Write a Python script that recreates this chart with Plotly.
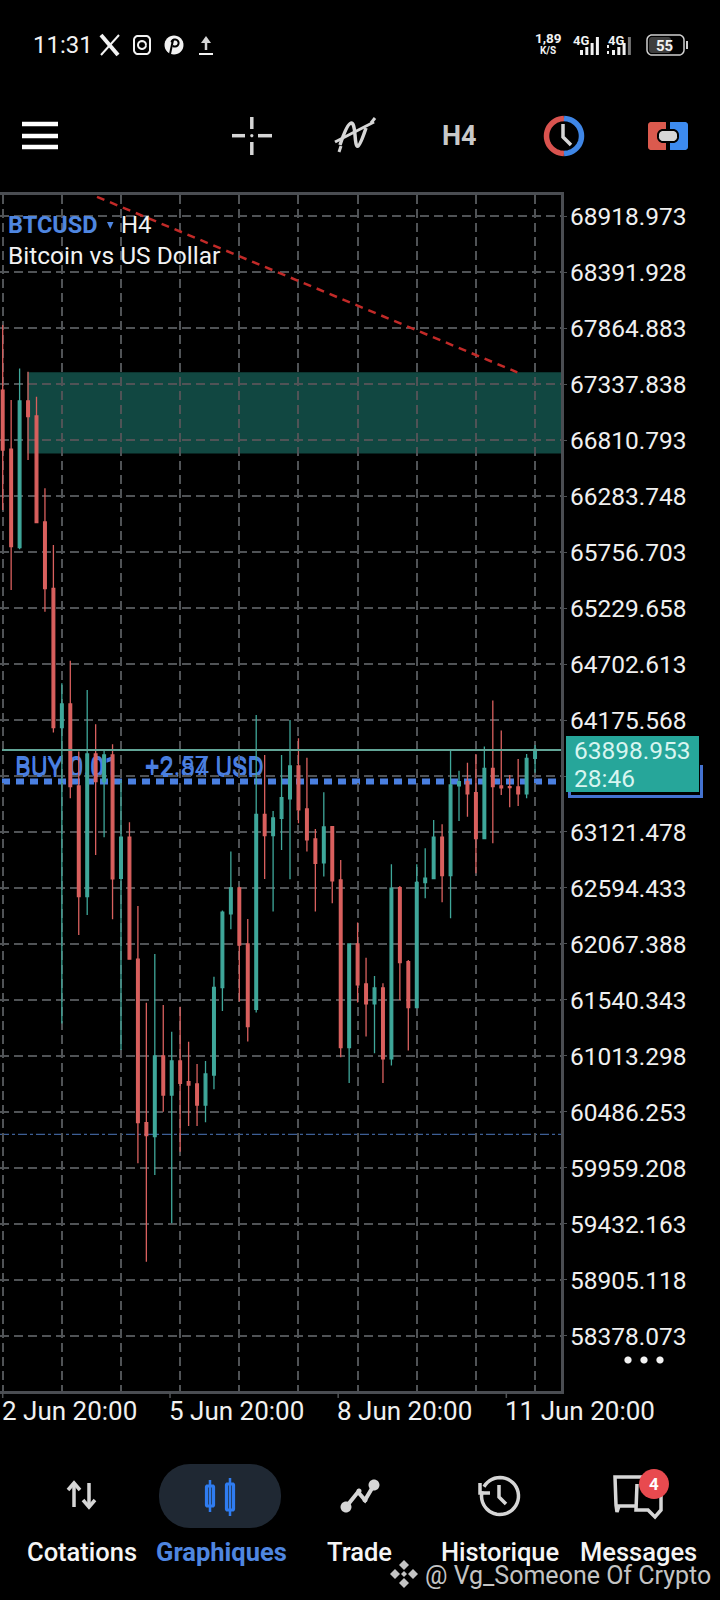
import math
import plotly.graph_objects as go

# candles, oldest first
opens = [67281, 66726, 65798, 67178, 67037, 66039, 65415, 64104, 64327, 63555,
         62513, 63856, 63596, 63847, 62686, 63072, 61924, 60386, 60254, 61013,
         60646, 60966, 60771, 60750, 60552, 60834, 61657, 62350, 62595, 62068,
         61453, 63288, 63087, 63251, 63433, 63743, 63338, 63056, 62830, 63172,
         62670, 61092, 62068, 61691, 61503, 61654, 60986, 62598, 61902, 61469,
         62645, 62683, 63072, 62711, 63555, 63596, 63492, 63059, 63721, 63555,
         63549, 63545, 63480, 63815]
highs = [67893, 67187, 67485, 67454, 67219, 66356, 65823, 64521, 64734, 63878,
         64458, 64135, 63887, 63947, 63611, 63213, 62425, 61515, 61974, 61493,
         61242, 61477, 61148, 60938, 60966, 61760, 62382, 62937, 62607, 62302,
         64223, 63847, 63320, 63847, 64176, 64003, 63821, 63150, 63495, 63172,
         62858, 62068, 62269, 61939, 61767, 61698, 62818, 62614, 61917, 62818,
         62968, 63235, 63194, 63887, 63699, 63774, 63856, 63925, 64358, 64076,
         63658, 63809, 63856, 63941]
lows = [66152, 65399, 65782, 66623, 66033, 65195, 64057, 61320, 63439, 62153,
        62341, 62906, 63072, 62300, 61069, 61924, 60003, 59077, 59893, 60489,
        59438, 60113, 60354, 60354, 60389, 60699, 61437, 62206, 61525, 61149,
        61422, 62680, 62372, 62953, 62676, 63203, 62937, 62372, 62702, 62451,
        61001, 60759, 61516, 61196, 61039, 60759, 60923, 61541, 61064, 61469,
        62498, 62683, 62460, 62309, 63226, 63266, 62733, 63059, 63015, 63470,
        63354, 63367, 63439, 63680]
closes = [66717, 65807, 67178, 67031, 66033, 65412, 64104, 64327, 63549, 62513,
          63856, 63596, 63847, 62680, 63072, 61924, 60386, 60263, 61013, 60646,
          60966, 60756, 60740, 60552, 60844, 61659, 62366, 62595, 62058, 61290,
          63288, 63087, 63254, 63445, 63743, 63329, 63047, 62827, 63169, 62661,
          61092, 62068, 61682, 61503, 61654, 60986, 62592, 61892, 61469, 62648,
          62686, 63072, 62711, 63564, 63596, 63480, 63059, 63721, 63549, 63536,
          63539, 63480, 63815, 63899]

y_ticks = [68918.973, 68391.928, 67864.883, 67337.838, 66810.793, 66283.748, 65756.703,
           65229.658, 64702.613, 64175.568, 63648.523, 63121.478, 62594.433, 62067.388,
           61540.343, 61013.298, 60486.253, 59959.208, 59432.163, 58905.118, 58378.073]
y_tick_text = ["68918.973", "68391.928", "67864.883", "67337.838", "66810.793", "66283.748", "65756.703",
               "65229.658", "64702.613", "64175.568", "", "63121.478", "62594.433", "62067.388",
               "61540.343", "61013.298", "60486.253", "59959.208", "59432.163", "58905.118", "58378.073"]
grid_x = [0, 7, 14, 21, 28, 35, 42, 49, 56, 63]
date_labels = ["2 Jun 20:00", "5 Jun 20:00", "8 Jun 20:00", "11 Jun 20:00"]
date_pos = [0, 19.8, 39.7, 59.6]

last_price = 63894
buy_price = 63596
alert_price = 60276
zone_top, zone_bottom, zone_start = 67448, 66685, 2.9
trend_x = [11.16, 60.9]
trend_y = [69100, 67448]

RED = "#d9605e"
TEAL = "#3fa79a"
BLUE = "#4a7fe0"
GREY = "#d6d6d6"
FONT = "Roboto"

W, H = 720, 1600
PLOT_L, PLOT_R, PLOT_T, PLOT_B = 0, 561, 195, 1391


def px(x):
    return x / W


def py(y):
    return 1 - y / H


def path(points, close=False):
    s = "M " + " L ".join(f"{px(x):.5f},{py(y):.5f}" for x, y in points)
    return s + (" Z" if close else "")


def arc(cx, cy, r, a0, a1, n=30):
    # angles in degrees, 0 = right, going clockwise on screen
    out = []
    for k in range(n + 1):
        a = math.radians(a0 + (a1 - a0) * k / n)
        out.append((cx + r * math.cos(a), cy + r * math.sin(a)))
    return out


def rounded(x0, y0, x1, y1, r):
    pts = arc(x1 - r, y0 + r, r, -90, 0, 8) + arc(x1 - r, y1 - r, r, 0, 90, 8)
    pts += arc(x0 + r, y1 - r, r, 90, 180, 8) + arc(x0 + r, y0 + r, r, 180, 270, 8)
    return pts


shapes = []


def fill_shape(points, color):
    shapes.append(dict(type="path", xref="paper", yref="paper", path=path(points, True),
                       fillcolor=color, line=dict(width=0), layer="above"))


def stroke(points, color, width=3, close=False):
    shapes.append(dict(type="path", xref="paper", yref="paper", path=path(points, close),
                       line=dict(color=color, width=width), layer="above"))


def disc(cx, cy, r, color):
    fill_shape(arc(cx, cy, r, 0, 360, 32), color)


def rect(x0, y0, x1, y1, color):
    fill_shape([(x0, y0), (x1, y0), (x1, y1), (x0, y1)], color)


def diamond(cx, cy, r, color):
    fill_shape([(cx, cy - r), (cx + r, cy), (cx, cy + r), (cx - r, cy)], color)


notes = []


def text(x, y, s, size=24, color="#f2f2f2", anchor="left", weight=400):
    # annotations carry a little padding on their left side
    xs = -2.5 if anchor == "left" else 0
    notes.append(dict(xref="paper", yref="paper", x=px(x), xshift=xs, y=py(y), text=s,
                      showarrow=False, xanchor=anchor, yanchor="middle",
                      font=dict(family=FONT, size=size, color=color, weight=weight)))


def order_label(x0, x1, y, s):
    # sits under the candles, so it goes on a below-layer shape and not in an annotation
    shapes.append(dict(type="rect", xref="paper", yref="paper", x0=px(x0), x1=px(x1), y0=py(y), y1=py(y),
                       line=dict(width=0), layer="below",
                       label=dict(text=s, textposition="middle left", padding=0,
                                  font=dict(family=FONT, size=25.5, color=BLUE))))


# chart overlays, all in data units
shapes.append(dict(type="rect", xref="x", yref="y", x0=zone_start, x1=66.3, y0=zone_bottom, y1=zone_top,
                   fillcolor="#124a44", opacity=0.96, line=dict(width=0), layer="below"))
shapes.append(dict(type="line", xref="paper", x0=0, x1=PLOT_R / W, yref="y", y0=alert_price, y1=alert_price,
                   line=dict(color="#3d5f96", width=1.2, dash="dashdot"), layer="below"))
shapes.append(dict(type="line", xref="paper", x0=2 / W, x1=PLOT_R / W, yref="y", y0=buy_price, y1=buy_price,
                   line=dict(color=BLUE, width=6, dash="8px,6px"), layer="below"))
order_label(12, 120, 764, "BUY 0.01")
order_label(12, 120, 766, "BUY 0.01")
order_label(142, 265, 764, "+2.57 USD")
order_label(142, 265, 766, "+2.84 USD")
shapes.append(dict(type="line", xref="paper", x0=2 / W, x1=PLOT_R / W, yref="y", y0=last_price, y1=last_price,
                   line=dict(color="#62a597", width=2), layer="above"))
for p in date_pos:
    shapes.append(dict(type="line", xref="x", yref="paper", x0=p, x1=p, y0=py(1392), y1=py(1398),
                       line=dict(color="#505356", width=1.5), layer="above"))

# price tag on the right
rect(568, 765, 703, 798, "#4472d0")
rect(571, 765, 700, 795, "#000000")
rect(566, 736, 699, 792, "#26a69a")
text(574, 750, "63898.953", 24.5, "#d8f5f0")
text(574, 778, "28:46", 24.5, "#d8f5f0")
for x in [628, 644, 660]:
    disc(x, 1360, 3.6, "#f2f2f2")

# status bar
text(33, 45, "11:31", 24)
stroke([(101, 35), (118, 55)], "#f2f2f2", 4)
stroke([(119, 35), (101, 55)], "#f2f2f2", 2)
stroke(rounded(134, 36, 150, 54, 4), "#f2f2f2", 2, True)
stroke(arc(142, 45, 4, 0, 360, 20), "#f2f2f2", 2)
disc(174, 45, 9.5, "#f2f2f2")
stroke([(173, 40), (170, 54)], "#000000", 2)
stroke(arc(175, 43, 3.6, -170, 130, 14), "#000000", 2)
stroke([(206, 50), (206, 39)], GREY, 2.5)
fill_shape([(201, 43), (206, 36), (211, 43)], GREY)
rect(199, 53, 213, 55, "#f2f2f2")
text(548.5, 38, "1,89", 13.5, "#f2f2f2", "center", 700)
text(548, 50, "K/S", 10, "#f2f2f2", "center", 700)
text(581, 40, "4G", 13, "#f2f2f2", "center", 700)
text(616, 40, "4G", 13, "#f2f2f2", "center", 700)
for x0, hts in [(580, [5, 8, 12, 18]), (612, [5, 8, 12, 18])]:
    for k, ht in enumerate(hts):
        rect(x0 + k * 5.3, 55 - ht, x0 + k * 5.3 + 3, 55, "#f2f2f2" if not (x0 == 612 and k == 3) else "#777777")
rect(607, 45, 609, 48, "#f2f2f2")
rect(607, 51, 609, 54, "#f2f2f2")
stroke(rounded(647, 35, 684, 55, 5), "#d0d0d0", 1.5, True)
fill_shape(rounded(649, 37, 671, 53, 3), "#3e3e3e")
rect(686, 41, 688, 49, "#d0d0d0")
text(664.5, 45.5, "55", 15, "#f2f2f2", "center", 700)

# toolbar
for y in [124, 136, 147]:
    rect(22, y - 2.2, 58, y + 2.2, "#ffffff")
for a, b in [((232, 135.7), (245, 135.7)), ((258, 135.7), (272, 135.7)),
             ((251.8, 117), (251.8, 129)), ((251.8, 142), (251.8, 155))]:
    stroke([a, b], GREY, 3.5)
disc(251.8, 135.7, 1.6, GREY)
shapes.append(dict(type="path", xref="paper", yref="paper", line=dict(color=GREY, width=3.5), layer="above",
                   path=f"M {px(340):.5f},{py(145):.5f} C {px(350):.5f},{py(115):.5f} {px(354):.5f},{py(120):.5f} "
                        f"{px(355):.5f},{py(135):.5f} S {px(358):.5f},{py(152):.5f} {px(366):.5f},{py(128):.5f}"))
stroke([(335, 142), (374, 122)], GREY, 3)
stroke([(339, 152), (341, 146)], GREY, 3)
stroke([(371, 123), (375, 118)], GREY, 3)
text(460, 136, "H4", 27, "#c9c9c9", "center", 700)
stroke(arc(564, 136, 17.5, 90, 270, 24), "#d9534f", 5.5)
stroke(arc(564, 136, 17.5, -90, 90, 24), "#3f86e6", 5.5)
stroke([(563, 124), (563, 137), (571, 145)], GREY, 3.5)
fill_shape(rounded(648, 122, 668, 150, 3), "#db5a4e")
fill_shape(rounded(668, 122, 688, 150, 3), "#3d8bf0")
rect(666, 122, 670, 150, "#000000")
fill_shape(rounded(658, 130, 678, 142, 5), GREY)
stroke(rounded(658, 130, 678, 142, 5), "#000000", 2, True)

# symbol header
text(8, 225, "BTCUSD", 23.5, "#4f86e0", weight=700)
fill_shape([(107, 222), (113.5, 222), (110.2, 229)], "#4f86e0")
text(121, 225, "H4", 24)
text(8, 255, "Bitcoin vs US Dollar", 24.5)

# bottom nav
stroke([(74, 1507), (74, 1483)], GREY, 3.5)
stroke([(68, 1490), (74, 1483), (80, 1490)], GREY, 3.5)
stroke([(89, 1483), (89, 1507)], GREY, 3.5)
stroke([(83, 1500), (89, 1507), (95, 1500)], GREY, 3.5)
fill_shape(rounded(159, 1464, 281, 1528, 31), "#1f2833")
for cx, top, bot in [(210, 1480, 1512), (230, 1478, 1516)]:
    stroke([(cx, top), (cx, bot)], "#2f7cf0", 2.5)
    stroke(rounded(cx - 3.5, top + 6, cx + 3.5, bot - 6, 1), "#2f7cf0", 3.2, True)
stroke([(346, 1507), (358, 1492), (365, 1500), (374, 1485)], GREY, 4)
disc(346, 1507, 5.5, GREY)
disc(374, 1485, 5.5, GREY)
disc(359, 1491, 2.5, GREY)
disc(365, 1500, 2.5, GREY)
stroke(arc(500, 1496, 18.5, -150, 195, 40), GREY, 3.5)
stroke([(480, 1483), (480, 1493), (490, 1493)], GREY, 3.5)
stroke([(499, 1485), (499, 1497), (506, 1504)], GREY, 3.5)
stroke([(637, 1506), (619, 1506), (617, 1512), (616, 1505), (615, 1477), (645, 1477)], GREY, 3.5)
stroke([(637, 1484), (636, 1510), (648, 1510), (655, 1517), (661, 1510), (661, 1490)], GREY, 3.5)
disc(654, 1484, 15, "#e84a4f")
text(654, 1484, "4", 17, "#ffffff", "center", 700)
text(82, 1552, "Cotations", 25.5, "#f5f5f5", "center", 500)
text(221, 1552, "Graphiques", 25.5, "#4f86e0", "center", 700)
text(359.5, 1552, "Trade", 25.5, "#f5f5f5", "center", 500)
text(499.5, 1552, "Historique", 25.5, "#f5f5f5", "center", 500)
text(638, 1552, "Messages", 25.5, "#f5f5f5", "center", 500)
text(425, 1575, "@ Vg_Someone Of Crypto", 25, "#c4c4c4")
for dx, dy in [(0, -9), (-9, 0), (9, 0), (0, 9)]:
    diamond(404 + dx, 1574 + dy, 5, "#c4c4c4")
diamond(404, 1574, 3, "#c4c4c4")

# date labels sit to the right of their tick, so they go in as annotations
for lab, p in zip(date_labels, date_pos):
    notes.append(dict(xref="x", yref="paper", x=p, y=py(1411), text=lab, showarrow=False, xanchor="left",
                      xshift=-3, yanchor="middle", font=dict(family=FONT, size=26, color="#f0f0f0")))

fig = go.Figure()
fig.add_trace(go.Candlestick(x=list(range(len(opens))), open=opens, high=highs, low=lows, close=closes,
                             increasing=dict(line=dict(color=TEAL, width=1.3), fillcolor=TEAL),
                             decreasing=dict(line=dict(color=RED, width=1.3), fillcolor=RED),
                             hoverinfo="skip", showlegend=False))
fig.add_trace(go.Scatter(x=trend_x, y=trend_y, mode="lines", hoverinfo="skip", showlegend=False,
                         line=dict(color="#c22a28", width=2.5, dash="8px,6px")))

axis_line = dict(showline=True, linecolor="#4a4d52", linewidth=3, mirror=True, zeroline=False)
grid = dict(showgrid=True, gridcolor="#505356", gridwidth=1.5, griddash="9px,5px")
fig.update_layout(
    width=W, height=H, autosize=False, margin=dict(l=0, r=0, t=0, b=0, autoexpand=False),
    paper_bgcolor="#000000", plot_bgcolor="#000000", showlegend=False, boxgap=0.55,
    xaxis=dict(domain=[PLOT_L / W, PLOT_R / W], range=[-0.32, 66.07], rangeslider=dict(visible=False),
               tickmode="array", tickvals=grid_x, ticktext=[""] * len(grid_x), ticks="", **axis_line, **grid),
    yaxis=dict(domain=[1 - PLOT_B / H, 1 - PLOT_T / H], range=[57860, 69117], side="right", tickmode="array",
               tickvals=y_ticks, ticktext=y_tick_text, ticks="outside", ticklen=3, ticklabelstandoff=-2,
               tickcolor="#505356", tickfont=dict(family=FONT, size=24.5, color="#f0f0f0"), **axis_line, **grid),
    shapes=shapes, annotations=notes,
)

fig.write_html("out.html", config=dict(displayModeBar=False),
               post_script="document.body.style.margin='0';document.body.style.background='#000';")
